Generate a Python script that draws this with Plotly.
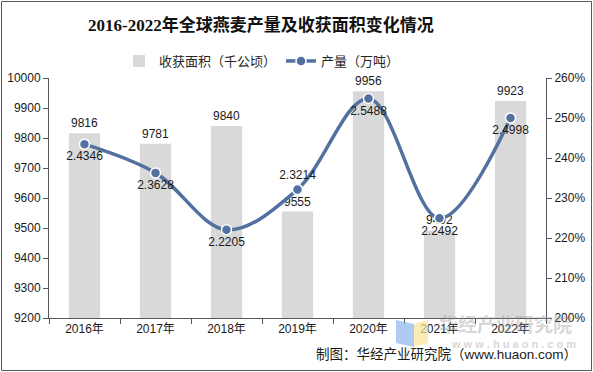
import plotly.graph_objects as go

years = ["2016年", "2017年", "2018年", "2019年", "2020年", "2021年", "2022年"]
area = [9816, 9781, 9840, 9555, 9956, 9492, 9923]          # 收获面积（千公顷）
output = [2.4346, 2.3628, 2.2205, 2.3214, 2.5488, 2.2492, 2.4998]  # 产量（万吨）
line_label_pos = ["bottom center", "bottom center", "bottom center", "top center",
                  "bottom center", "bottom center", "bottom center"]

W, H = 593, 372
L, R, T, B = 49, 546, 78, 318

def px(x):
    return (x - L) / (R - L)

def py(y):
    return (B - y) / (B - T)

SANS = "Liberation Sans, Arial, Noto Sans CJK SC"
LINE_C = "#5270a0"

fig = go.Figure()
fig.add_trace(go.Bar(
    x=years, y=area, name="收获面积（千公顷）",
    marker=dict(color="#d9d9d9", line=dict(width=0)),
    text=[str(v) for v in area], textposition="outside",
    textfont=dict(family=SANS, size=12, color="#1a1a1a"),
    cliponaxis=False,
))
fig.add_trace(go.Scatter(
    x=years, y=output, name="产量（万吨）", yaxis="y2",
    mode="lines+markers+text",
    line=dict(color=LINE_C, width=3.5, shape="spline", smoothing=1.0),
    marker=dict(size=10, color=LINE_C, line=dict(color="white", width=1.5)),
    text=[f"{v:.4f}" for v in output], textposition=line_label_pos,
    textfont=dict(family=SANS, size=12, color="#1a1a1a"),
    cliponaxis=False,
))

shapes = [
    dict(type="rect", xref="paper", yref="paper",
         x0=px(1.5), x1=px(591.5), y0=py(370.5), y1=py(1.5),
         line=dict(color="#595959", width=1), fillcolor="rgba(0,0,0,0)", layer="below"),
    # watermark logo
    dict(type="path", xref="paper", yref="paper",
         path=f"M {px(396)},{py(320)} L {px(414)},{py(324)} L {px(414)},{py(347)} L {px(396)},{py(343)} Z",
         fillcolor="rgba(120,170,235,0.6)", line=dict(width=0)),
    dict(type="path", xref="paper", yref="paper",
         path=f"M {px(414)},{py(324)} L {px(428)},{py(320)} L {px(428)},{py(343)} L {px(414)},{py(347)} Z",
         fillcolor="rgba(248,228,150,0.7)", line=dict(width=0)),
]

annotations = [
    dict(text="<b>2016-2022年全球燕麦产量及收获面积变化情况</b>", xref="paper", yref="paper",
         x=px(261), y=py(25), xanchor="center", yanchor="middle", showarrow=False,
         font=dict(family="Liberation Serif, Noto Sans CJK SC", size=17, color="#111111")),
    dict(text="制图：华经产业研究院（www.huaon.com）", xref="paper", yref="paper",
         x=px(579), y=py(354), xanchor="right", yanchor="middle", showarrow=False,
         font=dict(family=SANS, size=13.5, color="#1a1a1a")),
    dict(text="<b>华经产业研究院</b>", xref="paper", yref="paper",
         x=px(505), y=py(323), xanchor="center", yanchor="middle", showarrow=False,
         font=dict(family="Noto Sans CJK SC", size=19, color="rgba(150,150,150,0.4)")),
    dict(text="<b>w w w . h u a o n . c o m</b>", xref="paper", yref="paper",
         x=px(513), y=py(344), xanchor="center", yanchor="middle", showarrow=False,
         font=dict(family=SANS, size=11, color="rgba(150,150,150,0.4)")),
]

axis_common = dict(
    showline=True, linecolor="#595959", linewidth=1,
    ticks="outside", ticklen=5, tickcolor="#595959",
    tickfont=dict(family=SANS, size=12, color="#1a1a1a"),
    showgrid=False, zeroline=False, automargin=False,
)

fig.update_layout(
    width=W, height=H,
    margin=dict(l=L, r=W - R, t=T, b=H - B, autoexpand=False),
    paper_bgcolor="white", plot_bgcolor="white",
    bargap=0.56,
    showlegend=True,
    legend=dict(orientation="h", x=px(262), y=py(61), xanchor="center", yanchor="middle",
                font=dict(family=SANS, size=13, color="#262626"),
                itemwidth=30, tracegroupgap=0, bgcolor="rgba(0,0,0,0)"),
    xaxis=dict(type="category", tickson="boundaries", **axis_common),
    yaxis=dict(range=[9200, 10000], dtick=100, tickformat="d", **axis_common),
    yaxis2=dict(overlaying="y", side="right", range=[2.0, 2.6], dtick=0.1, tickformat=".0%",
                **axis_common),
    shapes=shapes,
    annotations=annotations,
)

fig.write_html("out.html", config={"displayModeBar": False},
               post_script="document.body.style.margin='0';document.body.style.overflow='hidden';")
